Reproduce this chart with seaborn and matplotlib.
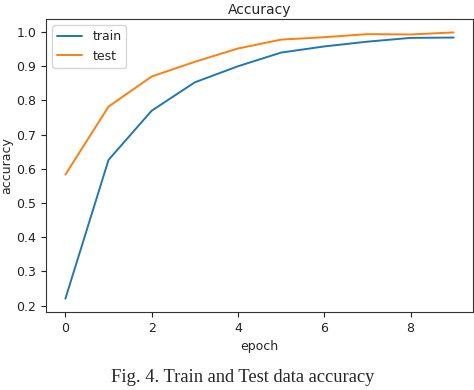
import numpy as np
import pandas as pd
import matplotlib
matplotlib.use("Agg")
import matplotlib.pyplot as plt
import seaborn as sns

# Accuracy per epoch
epochs = list(range(10))
train_acc = [0.220, 0.626, 0.770, 0.853, 0.900, 0.940, 0.958, 0.972, 0.983, 0.984]
test_acc = [0.583, 0.782, 0.870, 0.913, 0.952, 0.978, 0.985, 0.994, 0.993, 0.999]

df = pd.DataFrame({
    "epoch": epochs * 2,
    "accuracy": train_acc + test_acc,
    "set": ["train"] * len(epochs) + ["test"] * len(epochs),
})

sns.set_style("ticks")
plt.rcParams["font.family"] = ["DejaVu Sans"]

fig = plt.figure(figsize=(4.74, 3.9), dpi=100)
ax = fig.add_axes([0.097, 0.2, 0.901, 0.751])

sns.lineplot(data=df, x="epoch", y="accuracy", hue="set",
             palette=["#1f77b4", "#ff7f0e"], linewidth=1.4, ax=ax)

ax.set_xticks([0, 2, 4, 6, 8])
ax.set_yticks(np.arange(0.2, 1.01, 0.1))
ax.tick_params(labelsize=9, length=3.5, width=0.8, colors="#222222")
for s in ax.spines.values():
    s.set_color("#333333")
    s.set_linewidth(0.8)
ax.set_xlabel("epoch", fontsize=9)
ax.set_ylabel("accuracy", fontsize=9, labelpad=2)
ax.set_title("Accuracy", fontsize=10, pad=4)

leg = ax.legend(loc="upper left", fontsize=9, title=None, frameon=True)
leg.get_frame().set_edgecolor("#cccccc")

fig.text(0.512, 0.031, "Fig. 4. Train and Test data accuracy",
         ha="center", va="center", fontsize=13.3, family="Liberation Serif")

fig.savefig("out.png", dpi=100)
